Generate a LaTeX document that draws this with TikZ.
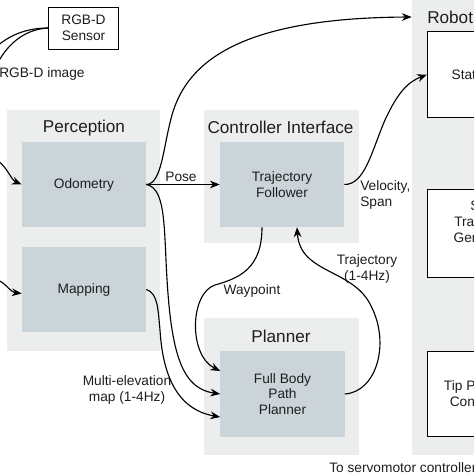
\documentclass[tikz,border=0pt]{standalone}
\usepackage{fontspec}
\setmainfont{Liberation Sans}
\usetikzlibrary{arrows.meta}
\definecolor{grpgray}{RGB}{236,238,238}
\definecolor{boxgray}{RGB}{203,213,217}
\definecolor{txtgray}{RGB}{30,30,30}
\newcommand{\ttlfont}{\fontsize{12.2}{14.5}\selectfont}
\newcommand{\bdyfont}{\fontsize{9.75}{11.2}\selectfont}
\begin{document}
\begin{tikzpicture}[x=0.025cm,y=-0.025cm,text=txtgray,
    grp/.style={fill=grpgray,inner sep=0pt},
    blk/.style={fill=boxgray,inner sep=0pt,minimum width=3.1cm,minimum height=2.125cm,align=center,font=\bdyfont},
    wbox/.style={draw=black,fill=white,line width=0.7pt,inner sep=0pt,minimum height=2.125cm,align=center,font=\bdyfont},
    ttl/.style={font=\ttlfont,inner sep=0pt},
    lbl/.style={font=\bdyfont,align=center,inner sep=0pt},
    wire/.style={line width=0.8pt},
    arr/.style={wire,-{Stealth[length=7pt,width=5.5pt]}}]
    \useasboundingbox (0,0) rectangle (474,474);
    \clip (0,0) rectangle (474,474);
    \fill[white] (0,0) rectangle (474,474);

    % groups
    \node[grp,minimum width=3.825cm,minimum height=6.025cm] (perc) at (83.5,230.5) {};
    \node[grp,minimum width=3.875cm,minimum height=3.325cm] (ci) at (281.5,176.5) {};
    \node[grp,minimum width=3.875cm,minimum height=3.425cm] (plan) at (281.5,386.5) {};
    \node[grp,minimum width=3.7cm,minimum height=11.625cm] (robot) at (486,222.5) {};

    \node[ttl] (pt) at (84,128) {Perception};
    \node[ttl] (ct) at (280.5,127) {Controller Interface};
    \node[ttl] (plt) at (281,336) {Planner};
    \node[ttl,anchor=west] (rt) at (427,17) {Robot};

    % blocks
    \node[wbox,minimum width=1.725cm,minimum height=1.05cm] (sen) at (83.5,28) {RGB-D\\Sensor};
    \node[blk] (odo) at (84,184.5) {Odometry};
    \node[blk] (map) at (84,289.5) {Mapping};
    \node[blk] (tf) at (282,184.5) {Trajectory\\Follower};
    \node[blk,minimum height=2.15cm] (fbpp) at (282.5,394) {Full Body\\Path\\Planner};

    \node[wbox,anchor=west,minimum width=3.55cm] (se) at (427,74.5) {State Estimator};
    \node[wbox,anchor=west,minimum width=2.85cm,minimum height=2.175cm,
        label={[lbl,yshift=0.29cm]center:{Step\\Trajectory\\Generator}}] (stg) at (427,233.5) {};
    \node[wbox,anchor=west,minimum width=2.6cm] (tpc) at (427,393.5) {Tip Position\\Controller};

    % labels
    \node[lbl,anchor=west] (rgbd) at (-1,74) {RGB-D image};
    \node[lbl] (pose) at (181,177) {Pose};
    \node[lbl] (wp) at (252,291) {Waypoint};
    \node[lbl] (traj) at (367,269) {Trajectory\\(1-4Hz)};
    \node[lbl,align=left,anchor=west] (vel) at (360,195) {Velocity,\\Span};
    \node[lbl] (mel) at (127,390) {Multi-elevation\\map (1-4Hz)};
    \node[lbl,anchor=west] (servo) at (329,468) {To servomotor controllers};

    % free ends
    \coordinate (s1) at (-5,48);
    \coordinate (s2) at (-3,64);
    \coordinate (o1) at (-3,160);
    \coordinate (m1) at (-3,280);

    % connectors
    \draw[wire] (sen.west) .. controls (25,28) and (8,36) .. (s1);
    \draw[wire] (sen.west) .. controls (28,29) and (10,40) .. (s2);
    \draw[arr] (o1) .. controls (8,168) and (11,180) .. (odo.west);
    \draw[arr] (m1) .. controls (5,282) and (10,292) .. ([yshift=-0.1cm]map.west);

    \draw[arr] (odo.east) -- (tf.west);
    \draw[arr] (odo.east) .. controls (162,184) and (163,147) .. (172,115)
        .. controls (187,62) and (240,18) .. (robot.west |- rt);
    \draw[arr] (odo.east) .. controls (163,188) and (164,215) .. (166,260)
        .. controls (170,350) and (180,388) .. (fbpp.west);
    \draw[arr] (map.east) .. controls (158,293) and (158,310) .. (160,330)
        .. controls (163,380) and (180,410) .. ([yshift=-0.575cm]fbpp.west);
    \draw[arr] ([xshift=-0.5cm]tf.south) .. controls (262,268) and (240,278) .. (215,285)
        .. controls (190,293) and (188,355) .. ([yshift=0.575cm]fbpp.west);
    \draw[arr] (fbpp.east) .. controls (376,392) and (390,345) .. (372,308)
        .. controls (355,268) and (300,275) .. ([xshift=0.375cm]tf.south);
    \draw[arr] (tf.east) .. controls (365,185) and (372,150) .. (385,120)
        .. controls (398,92) and (408,82) .. (se.west);
\end{tikzpicture}
\end{document}
